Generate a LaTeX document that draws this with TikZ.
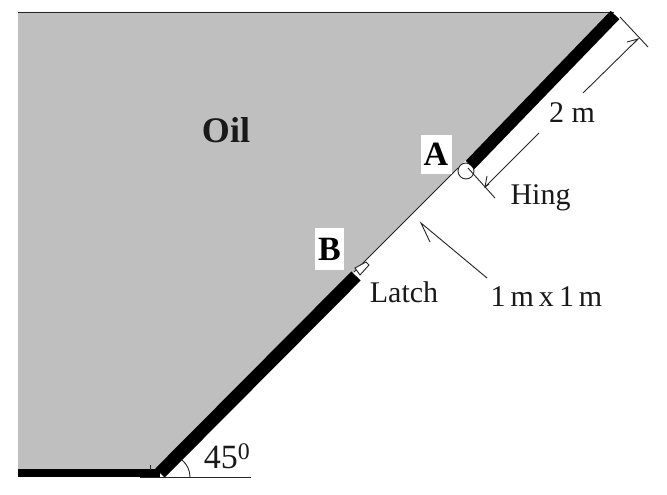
\documentclass[tikz,border=0pt]{standalone}
\usepackage{fontspec}
\setmainfont{Liberation Serif}
\tikzset{
  thinline/.style={draw=black!85,line width=0.9pt},
  wall/.style={draw=black,line width=12pt,line cap=butt},
  lbl/.style={inner sep=0pt,font=\fontsize{30}{32}\selectfont,text=black!90},
  whitebox/.style={fill=white,draw=none,inner sep=0pt,font=\fontsize{34}{36}\selectfont\bfseries,text=black}
}
\begin{document}
\begin{tikzpicture}[x=1pt,y=-1pt]
\useasboundingbox (0,0) rectangle (667,495);
\fill[black!25] (18,12) -- (614,12) -- (154,472) -- (18,472) -- cycle;
\draw[thinline] (18,12) -- (614,12);
% door line between walls
\coordinate (doorTop) at (458,168);
\coordinate (doorLow) at (354,272);
\draw[thinline] (doorTop) -- (doorLow);
% walls
\coordinate (hingeC) at (466,171);
\coordinate (wallTop) at (615,15);
\coordinate (wallHinge) at (470,165);
\coordinate (wallLatch) at (356,276);
\coordinate (wallFoot) at (160,473);
% hinge
\draw[thinline,fill=white] (hingeC) circle[radius=8];
\draw[wall] (wallTop) -- (wallHinge);
\draw[wall,line width=13pt] (wallLatch) -- (wallFoot);
\fill[black] (18,469) rectangle (160,476.5);
\draw[thinline] (150,465) -- (150,470);
\draw[thinline] (140,477) -- (251,477);
\draw[thinline] (190,477) arc[start angle=0,end angle=-50,radius=22];
% latch
\draw[thinline,fill=white] (355,268) -- (366,262) -- (369,265) -- (360,275) -- cycle;
% dimension
\coordinate (extTopA) at (620,17);
\coordinate (extTopB) at (648,47);
\coordinate (extLowA) at (468,168);
\coordinate (extLowB) at (495,198);
\coordinate (dimA) at (638,39);
\coordinate (dimB) at (583,93);
\coordinate (dimC) at (539,133);
\coordinate (dimD) at (485,187);
\draw[thinline] (extTopA) -- (extTopB);
\draw[thinline] (extLowA) -- (extLowB);
\draw[thinline] (dimA) -- (dimB);
\draw[thinline] (dimC) -- (dimD);
\draw[thinline] (627,42) -- (638,39) -- (634,43);
\draw[thinline] (487,176) -- (485,187) -- (489,184);
% area arrow
\coordinate (areaTip) at (421,223);
\coordinate (areaTail) at (487,278);
\draw[thinline] (areaTail) -- (areaTip) -- (430,242);
% labels
\node[lbl,font=\fontsize{36}{38}\selectfont\bfseries] (oil) at (226,130) {Oil};
\node[lbl] (two) at (572,113) {2 m};
\node[lbl] (hing) at (540.5,198) {Hing};
\node[lbl] (latch) at (404,292) {Latch};
\node[lbl] (area) at (546.5,297) {1\,m\,x\,1\,m};
\node[lbl,font=\fontsize{34}{36}\selectfont] (deg) at (227,456) {45$^{\mathrm{0}}$};
\node[whitebox,minimum width=31pt,minimum height=39pt] (A) at (436,154) {A};
\node[whitebox,minimum width=29pt,minimum height=42pt] (B) at (329.5,249) {B};
\end{tikzpicture}
\end{document}
